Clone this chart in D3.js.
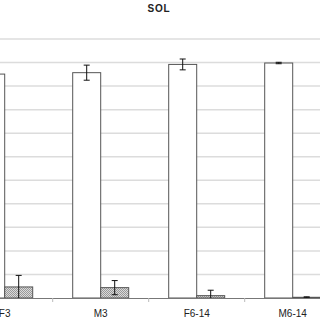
<!DOCTYPE html>
<meta charset="utf-8">
<script src="https://d3js.org/d3.v7.min.js"></script>
<style>
  body { margin: 0; background: #fff; }
  text { font-family: "Liberation Sans", Arial, sans-serif; }
</style>
<div id="chart"></div>
<script>
// data (percent)
var groups = ["F3", "M3", "F6-14", "M6-14"];
var series = ["open", "hatched"];
var openVals = [95.1, 95.7, 99.2, 99.8];
var openErr = [3.0, 3.2, 2.3, 0.3];
var hatchVals = [4.7, 4.4, 1.0, 0.3];
var hatchErr = [4.9, 3.0, 2.3, 0.2];
var yTicks = [0, 10, 20, 30, 40, 50, 60, 70, 80, 90, 100, 110];

var width = 320, height = 320;
var top0 = 39, base = 298;

var svg = d3.select("#chart").append("svg")
  .attr("width", width).attr("height", height);

var defs = svg.append("defs");
var pat = defs.append("pattern")
  .attr("id", "hatch").attr("patternUnits", "userSpaceOnUse")
  .attr("width", 2).attr("height", 2);
pat.append("rect").attr("width", 2).attr("height", 2).attr("fill", "#dadada");
pat.append("rect").attr("width", 1).attr("height", 1).attr("fill", "#999");
pat.append("rect").attr("x", 1).attr("y", 1).attr("width", 1).attr("height", 1).attr("fill", "#999");

// scales (plot area runs past the left edge, like the cropped original)
var x0 = d3.scaleBand().domain(groups).range([-43.3, 340.7]).padding(0);
var x1 = d3.scaleBand().domain(series).range([20, 76]).padding(0);
var y = d3.scaleLinear().domain([0, 110]).range([base, top0]);

// gridlines
svg.append("g").selectAll("line")
  .data(yTicks.filter(function(d) { return d > 0; }))
  .enter().append("line")
    .attr("x1", 0).attr("x2", width)
    .attr("y1", function(d) { return y(d); })
    .attr("y2", function(d) { return y(d); })
    .attr("stroke", "#dcdcdc").attr("stroke-width", 1.5);

// title
svg.append("text")
  .attr("x", 159).attr("y", 12)
  .attr("text-anchor", "middle")
  .attr("font-size", 10).attr("font-weight", "bold")
  .attr("letter-spacing", 0.8)
  .attr("fill", "#222")
  .text("SOL");

var rows = groups.map(function(g, i) {
  return [
    { g: g, s: "open", v: openVals[i], e: openErr[i] },
    { g: g, s: "hatched", v: hatchVals[i], e: hatchErr[i] }
  ];
});
var flat = [].concat.apply([], rows);

// bars
svg.append("g").selectAll("rect")
  .data(flat)
  .enter().append("rect")
    .attr("x", function(d) { return x0(d.g) + x1(d.s); })
    .attr("y", function(d) { return y(d.v); })
    .attr("width", x1.bandwidth())
    .attr("height", function(d) { return base - y(d.v); })
    .attr("fill", function(d) { return d.s === "open" ? "#fff" : "url(#hatch)"; })
    .attr("stroke", "#555").attr("stroke-width", 1);

// error bars
var eb = svg.append("g").attr("stroke", "#111").attr("stroke-width", 1);
flat.forEach(function(d) {
  var cx = x0(d.g) + x1(d.s) + x1.bandwidth() / 2;
  var hi = y(d.v + d.e), lo = y(Math.max(0, d.v - d.e));
  eb.append("line").attr("x1", cx).attr("x2", cx).attr("y1", hi).attr("y2", lo);
  eb.append("line").attr("x1", cx - 3).attr("x2", cx + 3).attr("y1", hi).attr("y2", hi);
  if (d.v - d.e > 0) {
    eb.append("line").attr("x1", cx - 3).attr("x2", cx + 3).attr("y1", lo).attr("y2", lo);
  }
});

// x axis
var xAxis = svg.append("g")
  .attr("transform", "translate(0," + base + ")")
  .call(d3.axisBottom(x0).tickSize(0).tickPadding(12));
xAxis.select(".domain").attr("stroke", "#777").attr("stroke-width", 1);
xAxis.selectAll("text").attr("font-size", 10).attr("fill", "#222")
  .attr("font-family", "Liberation Sans, Arial, sans-serif");

// tick marks at category boundaries
svg.append("g").selectAll("line")
  .data(groups)
  .enter().append("line")
    .attr("x1", function(d) { return x0(d) + x0.bandwidth(); })
    .attr("x2", function(d) { return x0(d) + x0.bandwidth(); })
    .attr("y1", base).attr("y2", base + 4)
    .attr("stroke", "#bbb");
</script>
